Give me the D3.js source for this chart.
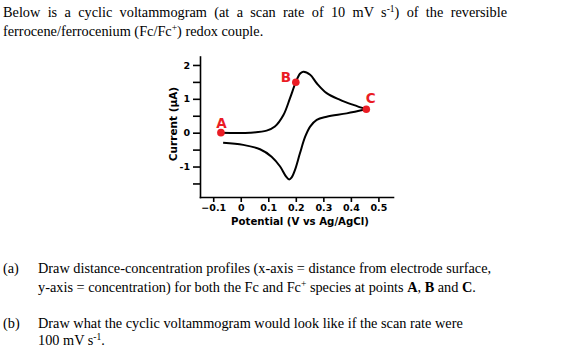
<!DOCTYPE html>
<html>
<head>
<meta charset="utf-8">
<script src="https://cdn.jsdelivr.net/npm/d3@7"></script>
<style>
  body { margin: 0; background: #fff; }
  svg { display: block; }
  .serif { font-family: "Liberation Serif", "Times New Roman", serif; font-size: 14.3px; fill: #000; }
  .axis text { font-family: "DejaVu Sans", Verdana, sans-serif; font-weight: bold; font-size: 9.5px; fill: #000; }
  .axis path, .axis line { stroke: #000; stroke-width: 1.6; }
</style>
</head>
<body>
<svg width="585" height="362"></svg>
<script>
// forward scan (A -> peak -> C)
const fwdPotential = [-0.072, 0.034, 0.094, 0.124, 0.155, 0.179, 0.200, 0.215, 0.227, 0.252, 0.276, 0.312, 0.361, 0.409, 0.456];
const fwdCurrent   = [0.00, 0.00, 0.06, 0.18, 0.52, 1.02, 1.49, 1.74, 1.80, 1.71, 1.46, 1.17, 0.97, 0.82, 0.69];
// reverse scan (C -> trough -> back)
const revPotential = [0.456, 0.385, 0.312, 0.276, 0.252, 0.234, 0.215, 0.197, 0.185, 0.176, 0.165, 0.143, 0.112, 0.070, 0.009, -0.064];
const revCurrent   = [0.69, 0.57, 0.47, 0.38, 0.18, -0.12, -0.61, -1.10, -1.32, -1.38, -1.30, -1.00, -0.71, -0.49, -0.36, -0.30];
// labelled points
const pointNames = ['A', 'B', 'C'];
const pointPotential = [-0.072, 0.200, 0.456];
const pointCurrent = [0.00, 1.49, 0.69];

const xTicks = [-0.1, 0, 0.1, 0.2, 0.3, 0.4, 0.5];
const yTicks = [-1.5, -1, -0.5, 0, 0.5, 1, 1.5, 2];

const svg = d3.select('svg');

// --- question text ---
function justify(sel, width) {
  const nat = sel.node().getComputedTextLength();
  const spaces = (sel.text().match(/ /g) || []).length;
  sel.style('word-spacing', ((width - nat) / spaces) + 'px');
}

const l1 = svg.append('text').attr('class', 'serif').attr('x', 3).attr('y', 17);
l1.append('tspan').text('Below is a cyclic voltammogram (at a scan rate of 10 mV s');
l1.append('tspan').attr('dy', -5).attr('font-size', 9.5).text('-1');
l1.append('tspan').attr('dy', 5).text(') of the reversible');
justify(l1, 504);

const l2 = svg.append('text').attr('class', 'serif').attr('x', 3).attr('y', 36);
l2.append('tspan').text('ferrocene/ferrocenium (Fc/Fc');
l2.append('tspan').attr('dy', -5).attr('font-size', 9.5).text('+');
l2.append('tspan').attr('dy', 5).text(') redox couple.');

const qa = svg.append('g');
qa.append('text').attr('class', 'serif').attr('x', 3).attr('y', 273).text('(a)');
qa.append('text').attr('class', 'serif').attr('x', 38).attr('y', 273)
  .text('Draw distance-concentration profiles (x-axis = distance from electrode surface,');
const l4 = qa.append('text').attr('class', 'serif').attr('x', 38).attr('y', 291.5);
l4.append('tspan').text('y-axis = concentration) for both the Fc and Fc');
l4.append('tspan').attr('dy', -5).attr('font-size', 9.5).text('+');
l4.append('tspan').attr('dy', 5).text(' species at points ');
l4.append('tspan').attr('font-weight', 'bold').text('A');
l4.append('tspan').text(', ');
l4.append('tspan').attr('font-weight', 'bold').text('B');
l4.append('tspan').text(' and ');
l4.append('tspan').attr('font-weight', 'bold').text('C');
l4.append('tspan').text('.');

svg.append('text').attr('class', 'serif').attr('x', 3).attr('y', 327.5).text('(b)');
svg.append('text').attr('class', 'serif').attr('x', 38).attr('y', 327.5)
  .text('Draw what the cyclic voltammogram would look like if the scan rate were');
const l6 = svg.append('text').attr('class', 'serif').attr('x', 38).attr('y', 345);
l6.append('tspan').text('100 mV s');
l6.append('tspan').attr('dy', -5).attr('font-size', 9.5).text('-1');
l6.append('tspan').attr('dy', 5).text('.');

// --- chart ---
const x = d3.scaleLinear().domain([-0.148, 0.553]).range([200, 393]);
const y = d3.scaleLinear().domain([-1.9, 2.25]).range([197, 56.5]);

svg.append('g')
  .attr('class', 'axis')
  .attr('transform', `translate(0,${y.range()[0]})`)
  .call(d3.axisBottom(x).tickValues(xTicks).tickSize(5).tickSizeOuter(0).tickPadding(2)
    .tickFormat(d => d === 0 ? '0' : d3.format('.1f')(d)));

svg.append('g')
  .attr('class', 'axis')
  .attr('transform', `translate(${x.range()[0]},0)`)
  .call(d3.axisLeft(y).tickValues(yTicks).tickSize(7).tickSizeOuter(0).tickPadding(3)
    .tickFormat(d => Number.isInteger(d) ? d : ''));

svg.selectAll('.axis .domain').attr('stroke-linecap', 'square');

svg.append('text')
  .attr('x', 300).attr('y', 224.5)
  .attr('text-anchor', 'middle')
  .style('font-family', '"DejaVu Sans", Verdana, sans-serif').style('font-weight', 'bold').style('font-size', '10.2px')
  .text('Potential (V vs Ag/AgCl)');

svg.append('text')
  .attr('transform', `translate(177,124) rotate(-90)`)
  .attr('text-anchor', 'middle')
  .style('font-family', '"DejaVu Sans", Verdana, sans-serif').style('font-weight', 'bold').style('font-size', '10.5px')
  .text('Current (μA)');

const line = d3.line().x(d => x(d[0])).y(d => y(d[1])).curve(d3.curveCatmullRom.alpha(0.5));

svg.append('path')
  .datum(fwdPotential.map((p, i) => [p, fwdCurrent[i]]))
  .attr('d', line).attr('fill', 'none').attr('stroke', '#000').attr('stroke-width', 2);
svg.append('path')
  .datum(revPotential.map((p, i) => [p, revCurrent[i]]))
  .attr('d', line).attr('fill', 'none').attr('stroke', '#000').attr('stroke-width', 2);

const pts = pointNames.map((n, i) => ({ name: n, p: pointPotential[i], c: pointCurrent[i] }));
svg.selectAll('.pt').data(pts).enter().append('circle')
  .attr('class', 'pt')
  .attr('cx', d => x(d.p)).attr('cy', d => y(d.c)).attr('r', 3.8)
  .attr('fill', '#ea1c24');

// label centre offsets from the dot
const labelOffset = { A: [0.5, -9.5], B: [-10, -5.5], C: [4.5, -11] };
svg.selectAll('.ptlab').data(pts).enter().append('text')
  .attr('class', 'ptlab')
  .attr('x', d => x(d.p) + labelOffset[d.name][0])
  .attr('y', d => y(d.c) + labelOffset[d.name][1] + 5)
  .attr('text-anchor', 'middle')
  .style('font-family', '"DejaVu Sans", Verdana, sans-serif').style('font-weight', 'bold').style('font-size', '13.5px')
  .attr('fill', '#ea1c24')
  .text(d => d.name);
</script>
</body>
</html>
